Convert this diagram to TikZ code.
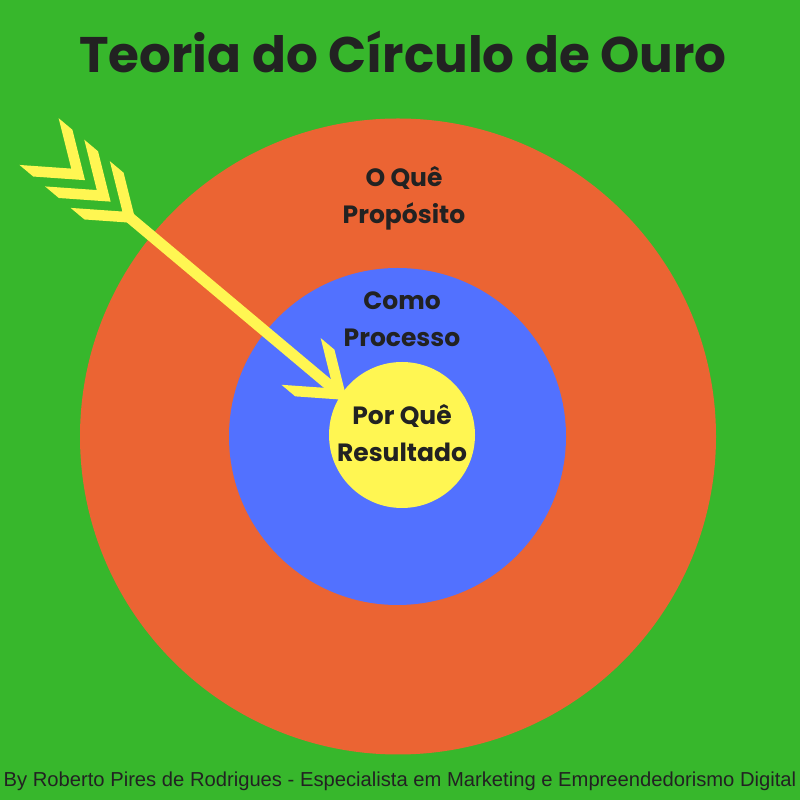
\documentclass[tikz,border=0pt]{standalone}
\usepackage{fontspec}
\setmainfont{Liberation Sans}
\newfontfamily\titlefont{Poppins}
\definecolor{grass}{HTML}{37B72C}
\definecolor{ember}{HTML}{EB6433}
\definecolor{sky}{HTML}{5271FF}
\definecolor{sun}{HTML}{FFF652}
\definecolor{ink}{HTML}{222222}
\tikzset{%
  ring/.style     = {circle, draw=none, inner sep=0pt},%
  ringtext/.style = {align=center, text=ink,%
                     font=\titlefont\bfseries\fontsize{25}{37}\selectfont},%
  fletch/.style   = {fill=sun}%
}
\newcommand{\chevron}[1]{%
  \fill[fletch] (#1,0) -- ++(-42,30.5) -- ++(-18,0) -- ++(42,-30.5)
    -- ++(-42,-30.5) -- ++(18,0) -- cycle;}

\begin{document}
\begin{tikzpicture}[x=1pt,y=1pt]
	\useasboundingbox (0,0) rectangle (800,800);
	\fill[grass] (0,0) rectangle (800,800);
	% target
	\node[ring, fill=ember, minimum size=636pt] (outer) at (398,363.5) {};
	\node[ring, fill=sky, minimum size=337pt] (middle) at (397.5,363.5) {};
	\node[ring, fill=sun, minimum size=146pt] (inner) at (402,365) {};
	\node[ringtext] (what) at (404,601.5) {O Quê\\Propósito};
	\node[ringtext] (how) at (402,481) {Como\\Processo};
	\node[ringtext] (why) at (402,366.5) {Por Quê\\Resultado};
	% arrow
	\coordinate (tip) at (347,400);
	\begin{scope}[shift={(tip)}, rotate=-40]
		\fill[fletch] (-293,-5.5) rectangle (-18,5.5);
		\chevron{0}
		\chevron{-275.2}
		\chevron{-308.6}
		\chevron{-342}
	\end{scope}
	% texts
	\node[text=ink, font=\titlefont\bfseries\fontsize{50}{54}\selectfont]
		(title) at (403,748) {Teoria do Círculo de Ouro};
	\node[text=ink, font=\fontsize{20.2}{24}\selectfont]
		(credit) at (400,19) {By Roberto Pires de Rodrigues - Especialista em Marketing e Empreendedorismo Digital};
\end{tikzpicture}
\end{document}
